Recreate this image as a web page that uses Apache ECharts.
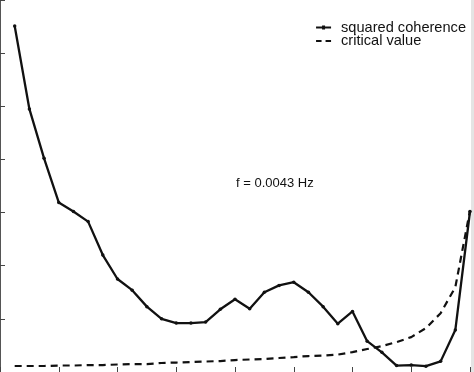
<!DOCTYPE html>
<html>
<head>
<meta charset="utf-8">
<script src="https://cdn.jsdelivr.net/npm/echarts@6/dist/echarts.min.js"></script>
<style>html,body{margin:0;padding:0;background:#fff;}#c{width:474px;height:372px;}</style>
</head>
<body>
<div id="c"></div>
<script>
var xIndex = [1,2,3,4,5,6,7,8,9,10,11,12,13,14,15,16,17,18,19,20,21,22,23,24,25,26,27,28,29,30,31,32];
var squaredCoherence = [0.651,0.495,0.402,0.319,0.302,0.283,0.220,0.175,0.154,0.123,0.100,0.092,0.092,0.094,0.118,0.137,0.119,0.150,0.163,0.169,0.150,0.123,0.091,0.114,0.058,0.037,0.012,0.013,0.011,0.020,0.079,0.302];
var criticalValue = [0.0113,0.0113,0.0113,0.0122,0.0122,0.0131,0.0131,0.0141,0.0150,0.0150,0.0169,0.0178,0.0188,0.0197,0.0206,0.0225,0.0235,0.0244,0.0263,0.0281,0.0300,0.0310,0.0328,0.0375,0.0432,0.0488,0.0563,0.0657,0.0826,0.1107,0.1595,0.304];
var annotation = 'f = 0.0043 Hz';
var legendNames = ['squared coherence','critical value'];

function pairs(ys){ return xIndex.map(function(x,i){ return [x, ys[i]]; }); }

var tick = { show:true, inside:true, length:5, lineStyle:{ color:'#444', width:1 } };
var chart = echarts.init(document.getElementById('c'), null, {renderer:'canvas'});
chart.setOption({
  animation:false,
  backgroundColor:'#fff',
  textStyle:{ fontFamily:'Liberation Sans, Arial, sans-serif' },
  grid:{ left:0, right:4, top:-1, bottom:0, containLabel:false },
  xAxis:[
    { type:'value', position:'bottom', min:0, max:32, interval:4, axisLine:{show:false}, axisTick:tick, axisLabel:{show:false}, splitLine:{show:false} },
    { type:'value', position:'top', min:0, max:32, interval:4, axisLine:{show:false}, axisTick:tick, axisLabel:{show:false}, splitLine:{show:false} }
  ],
  yAxis:[
    { type:'value', position:'left', min:0, max:0.7, interval:0.1, axisLine:{show:false}, axisTick:tick, axisLabel:{show:false}, splitLine:{show:false} },
    { type:'value', position:'right', min:0, max:0.7, interval:0.1, axisLine:{show:true, lineStyle:{color:'#555', width:1}}, axisTick:tick, axisLabel:{show:false}, splitLine:{show:false} }
  ],
  legend:{
    orient:'vertical', right:3, top:15, itemWidth:15, itemHeight:4, itemGap:-1.5,
    symbolKeepAspect:true,
    data:[
      { name:legendNames[0], icon:'path://M0,1h15v1.8h-15z M6,0h3v3.8h-3z' },
      { name:legendNames[1], icon:'path://M0,0h5.5v2h-5.5z M9.5,0h5.5v2h-5.5z' }
    ],
    itemStyle:{ color:'#111' },
    textStyle:{ fontSize:14.6, lineHeight:13.5, color:'#111', fontFamily:'Liberation Sans, Arial, sans-serif', padding:[0,0,0,5] }
  },
  graphic:[
    { type:'rect', shape:{ x:471, y:0, width:3, height:372 }, style:{ fill:'#e4e4e4' }, silent:true },
    { type:'text', left:236, top:177, style:{ text:annotation, fontSize:13, fill:'#111', fontFamily:'Liberation Sans, Arial, sans-serif' } }
  ],
  series:[
    { name:legendNames[0], type:'line', data:pairs(squaredCoherence), symbol:'circle', symbolSize:3.5, showSymbol:true,
      lineStyle:{ color:'#111', width:2.3 }, itemStyle:{ color:'#111' } },
    { name:legendNames[1], type:'line', data:pairs(criticalValue), symbol:'none', smooth:false,
      lineStyle:{ color:'#111', width:2.2, type:[7,5] }, itemStyle:{ color:'#111' } }
  ]
});
</script>
</body>
</html>
